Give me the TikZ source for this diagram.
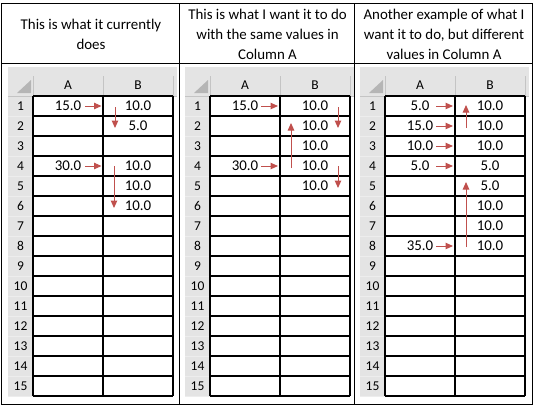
\documentclass[tikz,border=0pt]{standalone}
\usepackage{fontspec}
\setmainfont{Carlito}
\usetikzlibrary{arrows.meta}
\definecolor{arrowred}{HTML}{C0504D}
\definecolor{hdrgray}{HTML}{E4E4E4}
\definecolor{sepgray}{HTML}{C4C4C4}
\definecolor{trigray}{HTML}{B5B5B5}
\tikzset{
  cellval/.style={font=\fontsize{14.9}{16}\selectfont, inner sep=0pt},
  hdrtxt/.style={font=\fontsize{13.5}{15}\selectfont, inner sep=0pt},
  titletxt/.style={font=\fontsize{14.9}{20}\selectfont, align=center, inner sep=0pt},
  gridline/.style={black, line width=1.2pt},
  frameline/.style={black, line width=1pt},
  redarrow/.style={arrowred, line width=1pt, -{Triangle[length=7.5pt,width=6.5pt]}},
}
% #1 = x where the grey sheet header starts, #2 = name prefix
\newcommand\sheetgrid[2]{%
  \fill[hdrgray] (#1,67) rectangle (#1+169,96);
  \fill[hdrgray] (#1,96) rectangle (#1+25,397);
  \fill[trigray] (#1+23,80) -- (#1+23,93) -- (#1+9,93) -- cycle;
  \draw[sepgray] (#1+25,76) -- (#1+25,96);
  \draw[sepgray] (#1+95,76) -- (#1+95,96);
  \draw[sepgray] (#1+165,76) -- (#1+165,96);
  \draw[sepgray] (#1,96) -- (#1+169,96);
  \foreach \k in {1,...,15} {\draw[white!70!sepgray] (#1,96+20*\k) -- (#1+25,96+20*\k);}
  \foreach \k in {0,...,15} {\draw[gridline] (#1+25,96+20*\k) -- (#1+165,96+20*\k);}
  \foreach \xx in {25,95,165} {\draw[gridline] (#1+\xx,96) -- (#1+\xx,396);}
  \node[hdrtxt] (#2colA) at (#1+60,85.5) {A};
  \node[hdrtxt] (#2colB) at (#1+130,85.5) {B};
  \foreach \r in {1,...,15} {\node[hdrtxt] (#2row\r) at (#1+12.5,86+20*\r) {\r};}
}
% #1 = x of cell centre, #2 = row, #3 = name, #4 = text
\newcommand\cellv[4]{\node[cellval] (#3) at (#1,86+20*#2) {#4};}
\begin{document}
\begin{tikzpicture}[x=1pt,y=-1pt]
\useasboundingbox (0,0) rectangle (535,408);
% outer frame
\draw[frameline] (1.5,3.5) rectangle (532.5,404.5);
\draw[frameline] (1.5,63.5) -- (532.5,63.5);
\draw[frameline] (179.5,3.5) -- (179.5,404.5);
\draw[frameline] (354.5,3.5) -- (354.5,404.5);
% titles
\node[titletxt] (t1) at (91,34.5) {This is what it currently\\does};
\node[titletxt] (t2) at (267.5,34.5) {This is what I want it to do\\with the same values in\\Column A};
\node[titletxt] (t3) at (444,34.5) {Another example of what I\\want it to do, but different\\values in Column A};
% sheets
\sheetgrid{8}{p}
\sheetgrid{185}{q}
\sheetgrid{360}{s}
% panel 1 values
\cellv{68}{1}{pa1}{15.0}
\cellv{68}{4}{pa4}{30.0}
\cellv{138}{1}{pb1}{10.0}
\cellv{138}{2}{pb2}{5.0}
\cellv{138}{4}{pb4}{10.0}
\cellv{138}{5}{pb5}{10.0}
\cellv{138}{6}{pb6}{10.0}
% panel 2 values
\cellv{245}{1}{qa1}{15.0}
\cellv{245}{4}{qa4}{30.0}
\foreach \r in {1,...,5} {\cellv{315}{\r}{qb\r}{10.0}}
% panel 3 values
\cellv{420}{1}{sa1}{5.0}
\cellv{420}{2}{sa2}{15.0}
\cellv{420}{3}{sa3}{10.0}
\cellv{420}{4}{sa4}{5.0}
\cellv{420}{8}{sa8}{35.0}
\cellv{490}{1}{sb1}{10.0}
\cellv{490}{2}{sb2}{10.0}
\cellv{490}{3}{sb3}{10.0}
\cellv{490}{4}{sb4}{5.0}
\cellv{490}{5}{sb5}{5.0}
\cellv{490}{6}{sb6}{10.0}
\cellv{490}{7}{sb7}{10.0}
\cellv{490}{8}{sb8}{10.0}
% arrow end points
\coordinate (p1s) at (85,106);  \coordinate (p1e) at (101.5,106);
\coordinate (p2s) at (115,107); \coordinate (p2e) at (115,128);
\coordinate (p3s) at (85,166);  \coordinate (p3e) at (101.5,166);
\coordinate (p4s) at (114,166); \coordinate (p4e) at (114,208);
\coordinate (q1s) at (261,106); \coordinate (q1e) at (278,106);
\coordinate (q2s) at (338,107); \coordinate (q2e) at (338,128);
\coordinate (q3s) at (291,168); \coordinate (q3e) at (291,123);
\coordinate (q4s) at (261,166); \coordinate (q4e) at (278,166);
\coordinate (q5s) at (338,166); \coordinate (q5e) at (338,188);
\foreach \r in {1,2,3,4,8} {\coordinate (s\r s) at (436,86+20*\r); \coordinate (s\r e) at (453,86+20*\r);}
\coordinate (u1s) at (466,128); \coordinate (u1e) at (466,105);
\coordinate (u2s) at (466,247); \coordinate (u2e) at (466,182);
% arrows
\foreach \a in {p1,p2,p3,p4,q1,q2,q3,q4,q5,s1,s2,s3,s4,s8,u1,u2} {\draw[redarrow] (\a s) -- (\a e);}
\end{tikzpicture}
\end{document}
